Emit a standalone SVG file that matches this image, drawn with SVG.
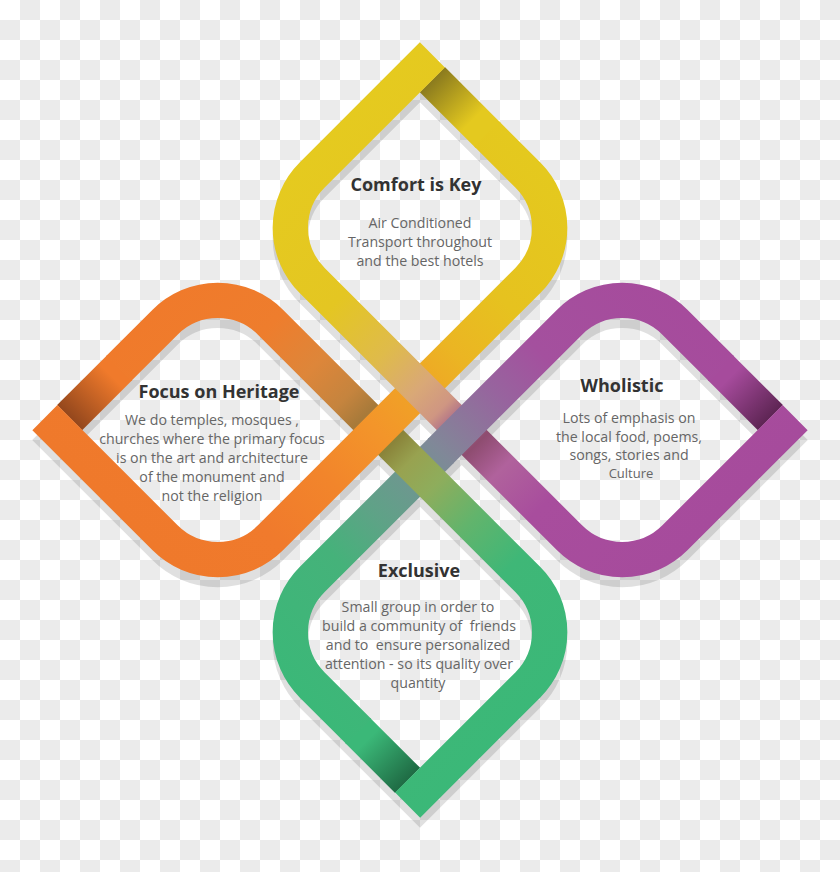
<svg xmlns="http://www.w3.org/2000/svg" xmlns:xlink="http://www.w3.org/1999/xlink" width="840" height="872" viewBox="0 0 840 872">
<defs>
<style>
.rb{fill:none;stroke-width:35.4;stroke-linecap:butt;stroke-linejoin:miter}
.t{font-family:"Open Sans","Noto Sans","Liberation Sans",sans-serif;font-weight:700;font-size:18px;fill:#333333;text-anchor:middle}
.b{font-family:"Open Sans","Noto Sans","Liberation Sans",sans-serif;font-size:14.2px;fill:#666666;text-anchor:middle}
</style>
<pattern id="chk" width="40" height="40" patternUnits="userSpaceOnUse">
<rect width="40" height="40" fill="#ffffff"/>
<rect x="20" y="0" width="20" height="20" fill="#ebebeb"/>
<rect x="0" y="20" width="20" height="20" fill="#ebebeb"/>
</pattern>
<linearGradient id="gS1" gradientUnits="userSpaceOnUse" x1="-274" y1="0" x2="274" y2="0">
<stop offset="0" stop-color="#e5ca1f"/>
<stop offset="0.226" stop-color="#e4c622"/>
<stop offset="0.354" stop-color="#dfbb4a"/>
<stop offset="0.445" stop-color="#d9a877"/>
<stop offset="0.5" stop-color="#cf9682"/>
<stop offset="0.527" stop-color="#b27488"/>
<stop offset="0.591" stop-color="#8e4c70"/>
<stop offset="0.655" stop-color="#b0629c"/>
<stop offset="0.755" stop-color="#a84d9d"/>
<stop offset="1" stop-color="#a64b9c"/>
</linearGradient>
<linearGradient id="gS2" gradientUnits="userSpaceOnUse" x1="0" y1="274" x2="0" y2="-274">
<stop offset="0" stop-color="#e4c91e"/>
<stop offset="0.226" stop-color="#e6c21f"/>
<stop offset="0.354" stop-color="#ebb523"/>
<stop offset="0.464" stop-color="#f0a226"/>
<stop offset="0.555" stop-color="#f3952a"/>
<stop offset="0.682" stop-color="#f2852b"/>
<stop offset="0.828" stop-color="#f07a2c"/>
<stop offset="1" stop-color="#ef792b"/>
</linearGradient>
<linearGradient id="gS3" gradientUnits="userSpaceOnUse" x1="-274" y1="0" x2="274" y2="0">
<stop offset="0" stop-color="#f07a2b"/>
<stop offset="0.172" stop-color="#ee7d2d"/>
<stop offset="0.281" stop-color="#dd863a"/>
<stop offset="0.363" stop-color="#c5843e"/>
<stop offset="0.409" stop-color="#a87a3a"/>
<stop offset="0.482" stop-color="#8a843a"/>
<stop offset="0.527" stop-color="#98a250"/>
<stop offset="0.591" stop-color="#8ead5c"/>
<stop offset="0.682" stop-color="#62b46c"/>
<stop offset="0.792" stop-color="#3fb777"/>
<stop offset="1" stop-color="#3bb878"/>
</linearGradient>
<linearGradient id="gS4" gradientUnits="userSpaceOnUse" x1="0" y1="274" x2="0" y2="-274">
<stop offset="0" stop-color="#a64b9c"/>
<stop offset="0.245" stop-color="#a4509e"/>
<stop offset="0.354" stop-color="#97649e"/>
<stop offset="0.445" stop-color="#8a7a9a"/>
<stop offset="0.5" stop-color="#808898"/>
<stop offset="0.573" stop-color="#6f9690"/>
<stop offset="0.664" stop-color="#5fa287"/>
<stop offset="0.774" stop-color="#45b27a"/>
<stop offset="1" stop-color="#3bb878"/>
</linearGradient>
<linearGradient id="gYF" gradientUnits="userSpaceOnUse" x1="-239" y1="0" x2="-182" y2="0">
<stop offset="0" stop-color="#8a7a1e"/>
<stop offset="1" stop-color="#e4c91f"/>
</linearGradient>
<linearGradient id="gOF" gradientUnits="userSpaceOnUse" x1="0" y1="-239" x2="0" y2="-180">
<stop offset="0" stop-color="#93471d"/>
<stop offset="1" stop-color="#f07a2b"/>
</linearGradient>
<linearGradient id="gPF" gradientUnits="userSpaceOnUse" x1="239" y1="0" x2="182" y2="0">
<stop offset="0" stop-color="#5e2554"/>
<stop offset="1" stop-color="#a64b9c"/>
</linearGradient>
<linearGradient id="gGF" gradientUnits="userSpaceOnUse" x1="239" y1="0" x2="182" y2="0">
<stop offset="0" stop-color="#1f6b44"/>
<stop offset="1" stop-color="#3bb878"/>
</linearGradient>
<path id="loop" d="M -256.5 256.5 V 104 A 74.5 74.5 0 0 1 -182 29.5 H 182 A 74.5 74.5 0 0 1 256.5 104 V 256.5 H 104 A 74.5 74.5 0 0 1 29.5 182 V -182 A 74.5 74.5 0 0 1 104 -256.5 H 256.5 V -104 A 74.5 74.5 0 0 1 182 -29.5 H -182 A 74.5 74.5 0 0 1 -256.5 -104 V -256.5 H -104 A 74.5 74.5 0 0 1 -29.5 -182 V 182 A 74.5 74.5 0 0 1 -104 256.5 Z"/>
</defs>
<rect width="840" height="872" fill="url(#chk)"/>
<g id="shadow" opacity="0.12" transform="translate(420 440) matrix(0.70711 0.70711 0.70711 -0.70711 0 0)">
<use xlink:href="#loop" href="#loop" fill="none" stroke="#000000" stroke-width="35.4" stroke-linejoin="miter" stroke-miterlimit="10"/>
</g>
<g id="connectors" transform="translate(420 430) matrix(0.70711 0.70711 0.70711 -0.70711 0 0)">
<path class="rb" stroke="url(#gYF)" d="M -239 256.5 H -160"/>
<path class="rb" stroke="url(#gOF)" d="M -256.5 -239 V -168"/>
<path class="rb" stroke="url(#gPF)" d="M 239 256.5 H 168"/>
<path class="rb" stroke="url(#gGF)" d="M 168 -256.5 H 239"/>
<path class="rb" stroke="url(#gS4)" d="M 29.5 1 V -182 A 74.5 74.5 0 0 1 104 -256.5 H 170"/>
<path class="rb" stroke="url(#gS3)" d="M -256.5 -170 V -104 A 74.5 74.5 0 0 0 -182 -29.5 H 182 A 74.5 74.5 0 0 0 256.5 -104 V -274"/>
<path class="rb" stroke="url(#gS2)" d="M -162 256.5 H -104 A 74.5 74.5 0 0 0 -29.5 182 V -182 A 74.5 74.5 0 0 0 -104 -256.5 H -274"/>
<path class="rb" stroke="url(#gS1)" d="M -256.5 274 V 104 A 74.5 74.5 0 0 1 -182 29.5 H 182 A 74.5 74.5 0 0 1 256.5 104 V 274"/>
<path class="rb" stroke="url(#gS4)" d="M 170 256.5 H 104 A 74.5 74.5 0 0 1 29.5 182 V -1"/>
</g>
<g id="node-comfort">
<text class="t" x="416" y="191">Comfort is Key</text>
<text class="b" x="420" y="228">Air Conditioned</text>
<text class="b" x="420" y="247">Transport throughout</text>
<text class="b" x="420" y="266">and the best hotels</text>
</g>
<g id="node-heritage">
<text class="t" x="219" y="398">Focus on Heritage</text>
<text class="b" x="212" y="425">We do temples, mosques ,</text>
<text class="b" x="212" y="444">churches where the primary focus</text>
<text class="b" x="212" y="463">is on the art and architecture</text>
<text class="b" x="212" y="482">of the monument and</text>
<text class="b" x="212" y="501">not the religion</text>
</g>
<g id="node-wholistic">
<text class="t" x="622" y="392">Wholistic</text>
<text class="b" x="629" y="423">Lots of emphasis on</text>
<text class="b" x="629" y="442">the local food, poems,</text>
<text class="b" x="629" y="460">songs, stories and</text>
<text class="b" x="631" y="478" style="font-size:13px">Culture</text>
</g>
<g id="node-exclusive">
<text class="t" x="419" y="577">Exclusive</text>
<text class="b" x="418" y="612">Small group in order to</text>
<text class="b" x="419" y="631" xml:space="preserve">build a community of  friends</text>
<text class="b" x="418" y="650" xml:space="preserve">and to  ensure personalized</text>
<text class="b" x="419" y="669">attention - so its quality over</text>
<text class="b" x="418" y="688">quantity</text>
</g>
</svg>
